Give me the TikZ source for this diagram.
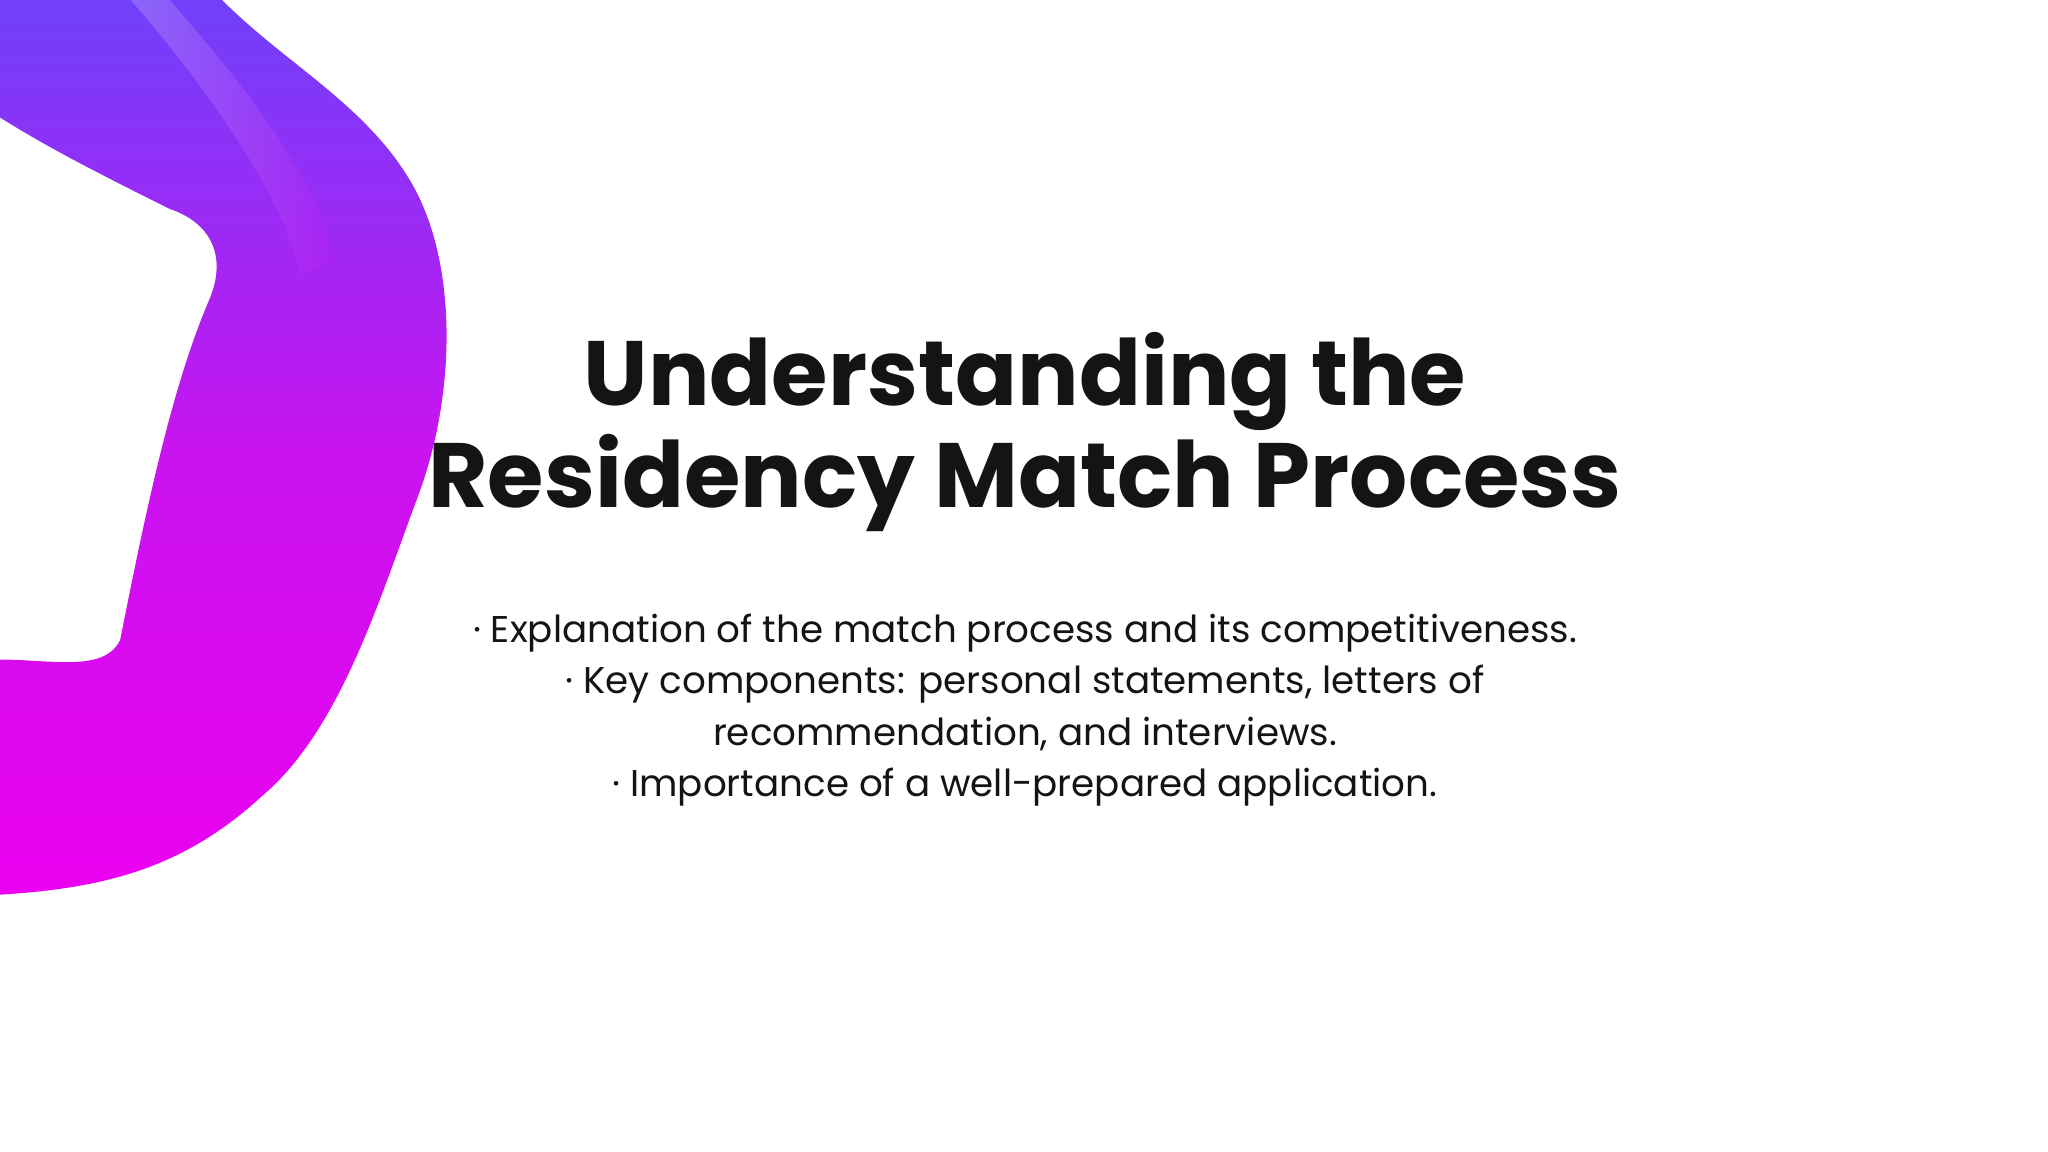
\documentclass[tikz,border=0pt]{standalone}
\usepackage{fontspec}
\setmainfont{Poppins}
\definecolor{rtop}{RGB}{112,64,250}
\definecolor{rmid}{RGB}{200,20,240}
\definecolor{rbot}{RGB}{235,0,240}
\definecolor{ink}{RGB}{20,20,20}
\tikzset{
  titletext/.style={font=\fontsize{26}{25}\selectfont\bfseries, text=ink, align=center},
  bullettext/.style={font=\fontsize{10.6}{14.6}\selectfont, text=ink, align=center}
}
\begin{document}
\begin{tikzpicture}
\useasboundingbox (0,0) rectangle (20.48,11.52);
\fill[white] (0,0) rectangle (20.48,11.52);
\begin{scope}[shift={(0,11.52)}, x=0.01306cm, y=-0.01306cm]
\shade[top color=rtop, bottom color=rbot, middle color=rmid]
  (0,0) -- (170,0)
  .. controls (220,50) and (280,80) .. (315,140)
  .. controls (350,200) and (350,300) .. (320,380)
  .. controls (290,460) and (260,560) .. (200,610)
  .. controls (140,665) and (80,680) .. (0,685)
  -- (0,505)
  .. controls (40,505) and (80,515) .. (92,490)
  .. controls (110,400) and (130,300) .. (160,230)
  .. controls (175,195) and (160,170) .. (130,160)
  .. controls (80,135) and (40,115) .. (0,90) -- cycle;
\shade[left color=white, right color=rmid, opacity=0.2]
  (130,0) .. controls (200,80) and (250,150) .. (255,200)
  -- (230,210) .. controls (220,160) and (170,80) .. (100,0) -- cycle;
\end{scope}
\node[titletext] (title) at (10.25,7.2) {Understanding the\\Residency Match Process};
\node[bullettext] (bullets) at (10.25,4.42) {· Explanation of the match process and its competitiveness.\\
· Key components: personal statements, letters of\\
recommendation, and interviews.\\
· Importance of a well-prepared application.};
\end{tikzpicture}
\end{document}
